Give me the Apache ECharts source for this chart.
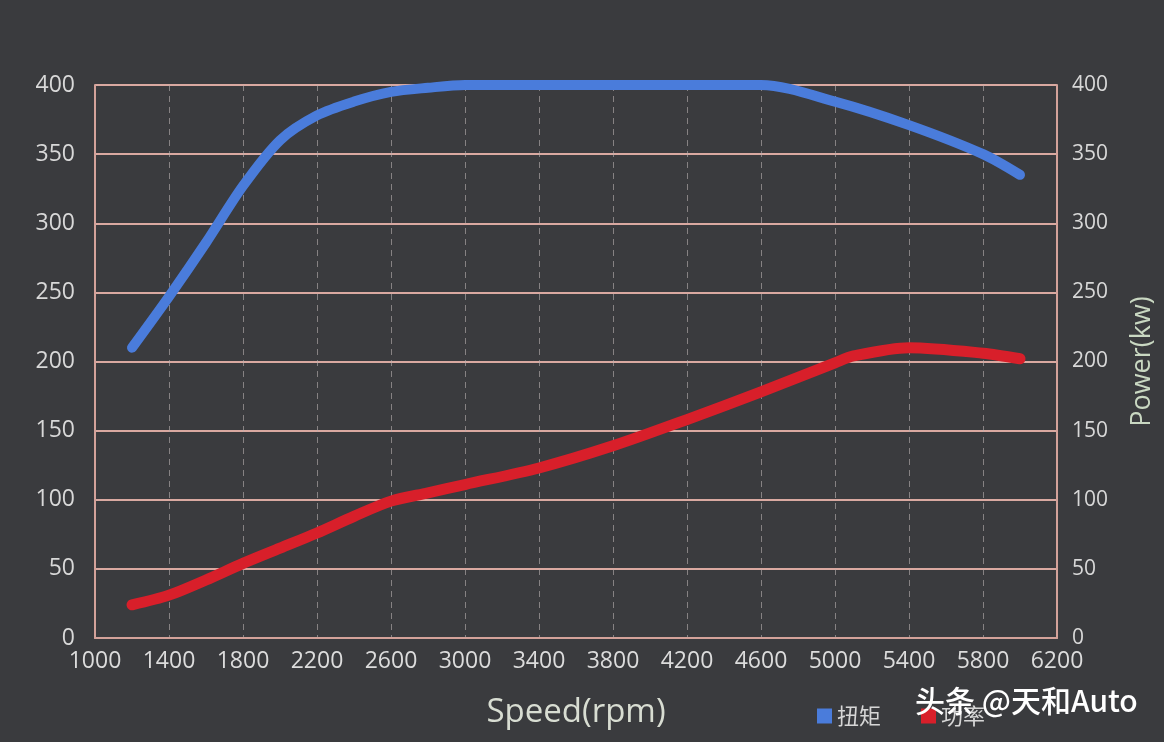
<!DOCTYPE html>
<html>
<head>
<meta charset="utf-8">
<style>
  html, body { margin: 0; padding: 0; background: #3a3b3e; }
  #chart { width: 1164px; height: 742px; }
</style>
<script src="https://cdn.jsdelivr.net/npm/echarts@6/dist/echarts.min.js"></script>
</head>
<body>
<div id="chart"></div>
<script>
// 转速 (rpm)
const speed = [1200, 1400, 1600, 1800, 2000, 2200, 2400, 2600, 2800, 3000, 3400, 3800, 4200, 4600, 5000, 5400, 5800, 6000]
// 扭矩 (Nm)
const torque = [210, 247, 286, 327, 360, 378, 388, 395, 398, 400, 400, 400, 400, 400, 388, 371, 350, 335]
// 功率 (kw)
const powerSpeed = [1200, 1400, 1600, 1800, 2000, 2200, 2400, 2600, 2800, 3000, 3400, 3800, 4200, 4600, 5000, 5100, 5400, 5800, 6000]
const power = [24, 31, 42, 54, 65, 76, 88, 99, 105, 111, 123, 139, 158, 178, 199, 204, 210, 206, 202]

const xTicks = [1000, 1400, 1800, 2200, 2600, 3000, 3400, 3800, 4200, 4600, 5000, 5400, 5800, 6200]

const labelFont = 'Open Sans'
const chart = echarts.init(document.getElementById('chart'))

const option = {
  backgroundColor: '#3a3b3e',
  animation: false,
  grid: {
    left: 95,
    right: 104,
    top: 85,
    bottom: 104
  },
  legend: {
    left: 812,
    top: 700,
    icon: 'rect',
    itemWidth: 15,
    itemHeight: 15,
    itemGap: 40,
    textStyle: {
      color: '#d6d6d6',
      fontSize: 22,
      fontFamily: 'Noto Sans CJK SC'
    },
    data: ['扭矩', '功率']
  },
  xAxis: {
    type: 'value',
    min: xTicks[0],
    max: xTicks[xTicks.length - 1],
    interval: 400,
    name: 'Speed(rpm)',
    nameLocation: 'middle',
    nameGap: 58,
    nameTextStyle: {
      color: '#d8ddd2',
      fontSize: 33,
      fontFamily: labelFont
    },
    axisLine: {
      show: true,
      lineStyle: { color: '#d3a29a', width: 2 }
    },
    axisTick: { show: false },
    axisLabel: {
      color: '#dcdcdc',
      fontSize: 23,
      fontFamily: labelFont,
      margin: 12,
      showMinLabel: true,
      showMaxLabel: true,
      formatter: (v) => String(v)
    },
    splitLine: {
      show: true,
      lineStyle: { color: '#b9b2b2', width: 1, type: [6, 5], opacity: 0.6 }
    }
  },
  yAxis: [
    {
      type: 'value',
      min: 0,
      max: 400,
      interval: 50,
      axisLine: {
        show: true,
        lineStyle: { color: '#d3a29a', width: 2 }
      },
      axisTick: { show: false },
      axisLabel: {
        color: '#d8d8d8',
        fontSize: 23,
        fontFamily: labelFont,
        margin: 20
      },
      splitLine: {
        show: true,
        lineStyle: { color: '#d9a9a1', width: 2 }
      }
    },
    {
      type: 'value',
      min: 0,
      max: 400,
      interval: 50,
      name: 'Power(kw)',
      nameLocation: 'middle',
      nameRotate: 90,
      nameGap: 72,
      nameTextStyle: {
        color: '#c9d8c2',
        fontSize: 27,
        fontFamily: labelFont
      },
      axisLine: {
        show: true,
        lineStyle: { color: '#d3a29a', width: 2 }
      },
      axisTick: { show: false },
      axisLabel: {
        color: '#d8d8d8',
        fontSize: 21,
        fontFamily: labelFont,
        margin: 15
      },
      splitLine: { show: false }
    }
  ],
  series: [
    {
      name: '扭矩',
      type: 'line',
      yAxisIndex: 0,
      smooth: 0.3,
      symbol: 'none',
      itemStyle: { color: '#4a7cdb' },
      lineStyle: { color: '#4a7cdb', width: 10, cap: 'round', join: 'round' },
      data: speed.map((s, i) => [s, torque[i]])
    },
    {
      name: '功率',
      type: 'line',
      yAxisIndex: 1,
      smooth: 0.3,
      symbol: 'none',
      itemStyle: { color: '#d81f2a' },
      lineStyle: { color: '#d81f2a', width: 11, cap: 'round', join: 'round' },
      data: powerSpeed.map((s, i) => [s, power[i]])
    }
  ],
  graphic: [
    {
      type: 'text',
      left: 915,
      top: 686,
      z: 100,
      style: {
        text: '头条 @天和Auto',
        fill: '#ffffff',
        font: '500 30px "Noto Sans CJK SC"',
        shadowColor: 'rgba(0,0,0,0.8)',
        shadowBlur: 3,
        shadowOffsetX: 1,
        shadowOffsetY: 1
      }
    }
  ]
}

chart.setOption(option)
</script>
</body>
</html>
